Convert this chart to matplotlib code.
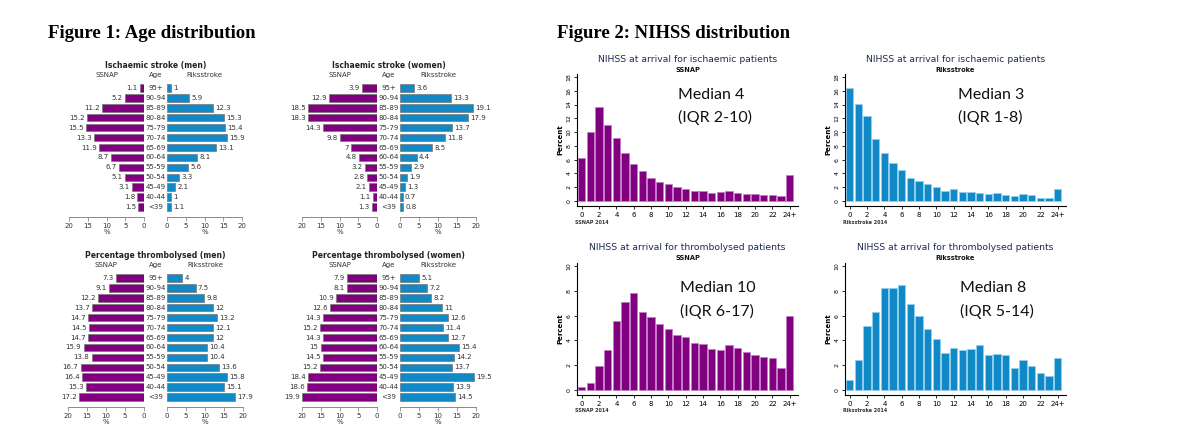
import matplotlib
matplotlib.use("Agg")
import matplotlib.pyplot as plt
import numpy as np

W, H = 1179, 437

PURPLE = '#800080'
BLUE = '#1089c6'
PURPLE_EDGE = '#c77ac7'
BLUE_EDGE = '#8fd0f0'

# --- Figure 1: age pyramids (rows listed top to bottom) ---
ages = ['95+', '90-94', '85-89', '80-84', '75-79', '70-74', '65-69',
        '60-64', '55-59', '50-54', '45-49', '40-44', '<39']

isch_men_ssnap = [1.1, 5.2, 11.2, 15.2, 15.5, 13.3, 11.9, 8.7, 6.7, 5.1, 3.1, 1.8, 1.5]
isch_men_riks = [1, 5.9, 12.3, 15.3, 15.4, 15.9, 13.1, 8.1, 5.6, 3.3, 2.1, 1, 1.1]
isch_women_ssnap = [3.9, 12.9, 18.5, 18.3, 14.3, 9.8, 7, 4.8, 3.2, 2.8, 2.1, 1.1, 1.3]
isch_women_riks = [3.6, 13.3, 19.1, 17.9, 13.7, 11.8, 8.5, 4.4, 2.9, 1.9, 1.3, 0.7, 0.8]
thromb_men_ssnap = [7.3, 9.1, 12.2, 13.7, 14.7, 14.5, 14.7, 15.9, 13.8, 16.7, 16.4, 15.3, 17.2]
thromb_men_riks = [4, 7.5, 9.8, 12, 13.2, 12.1, 12, 10.4, 10.4, 13.6, 15.8, 15.1, 17.9]
thromb_women_ssnap = [7.9, 8.1, 10.9, 12.6, 14.3, 15.2, 14.3, 15, 14.5, 15.2, 18.4, 18.6, 19.9]
thromb_women_riks = [5.1, 7.2, 8.2, 11, 12.6, 11.4, 12.7, 15.4, 14.2, 13.7, 19.5, 13.9, 14.5]

# --- Figure 2: NIHSS histograms (0..23, 24+) ---
nihss_ticklabels = [str(i) for i in range(0, 24, 2)] + ['24+']
isch_ssnap = [6.2, 10.0, 13.6, 11.1, 9.1, 7.0, 5.4, 4.3, 3.4, 2.8, 2.4, 2.0, 1.7,
              1.5, 1.5, 1.2, 1.3, 1.4, 1.2, 1.0, 1.0, 0.8, 0.9, 0.7, 3.8]
isch_riks = [16.4, 14.1, 12.4, 9.0, 6.9, 5.5, 4.5, 3.4, 2.9, 2.5, 2.1, 1.5, 1.7,
             1.3, 1.3, 1.2, 1.0, 1.2, 0.9, 0.7, 1.0, 0.8, 0.5, 0.4, 1.8]
thromb_ssnap = [0.25, 0.6, 1.9, 3.2, 5.6, 7.1, 7.8, 6.3, 5.9, 5.3, 4.9, 4.4, 4.3,
                3.8, 3.7, 3.3, 3.2, 3.6, 3.4, 3.1, 2.8, 2.7, 2.6, 1.8, 6.0]
thromb_riks = [0.8, 2.4, 5.2, 6.3, 8.2, 8.2, 8.5, 6.9, 6.0, 4.9, 4.1, 3.0, 3.4,
               3.2, 3.3, 3.6, 2.8, 2.9, 2.8, 1.8, 2.4, 1.9, 1.4, 1.1, 2.6]


def ax_px(fig, left, top, right, bottom):
    return fig.add_axes([left / W, 1 - bottom / H, (right - left) / W, (bottom - top) / H])


fig = plt.figure(figsize=(W / 100, H / 100), dpi=100)

fig.text(48 / W, 1 - 34 / H, 'Figure 1: Age distribution', family='Liberation Serif',
         weight='bold', fontsize=13.5, va='center', ha='left')
fig.text(557 / W, 1 - 34 / H, 'Figure 2: NIHSS distribution', family='Liberation Serif',
         weight='bold', fontsize=13.5, va='center', ha='left')


def pyramid(title, ssnap, riks, lx0, lx1, rx0, rx1, y_top_row, y_bottom_row, y_axis):
    n = len(ages)
    step = (y_bottom_row - y_top_row) / (n - 1)
    ypos = np.arange(n)[::-1]  # top row has highest y
    top_px = y_top_row - 0.6 * step
    ymin = -(y_axis - y_bottom_row) / step
    ymax = n - 1 + 0.6
    for side, vals, x0, x1, col in (('L', ssnap, lx0, lx1, PURPLE), ('R', riks, rx0, rx1, BLUE)):
        ax = ax_px(fig, x0, top_px, x1, y_axis)
        ax.barh(ypos, vals, height=0.74, color=col, edgecolor='#777777', linewidth=0.5)
        ax.set_xlim(0, 20)
        if side == 'L':
            ax.invert_xaxis()
        ax.set_ylim(ymin, ymax)
        for s in ('top', 'left', 'right'):
            ax.spines[s].set_visible(False)
        ax.spines['bottom'].set_color('#777777')
        ax.spines['bottom'].set_linewidth(0.6)
        ax.set_yticks([])
        ax.set_xticks([0, 5, 10, 15, 20])
        ax.tick_params(axis='x', labelsize=5, colors='#777777', labelcolor='#333333',
                       length=3, width=0.5, pad=1.5)
        ax.set_xlabel('%', fontsize=5, color='#333333', labelpad=0)
        for y, v in zip(ypos, vals):
            ax.text(v + 0.6, y, f'{v:g}', ha='right' if side == 'L' else 'left',
                    va='center', fontsize=5, color='#333333')
        ax.patch.set_alpha(0)
    xc = (lx1 + rx0) / 2
    for y, a in zip(ypos, ages):
        py = y_bottom_row - y * step
        fig.text(xc / W, 1 - py / H, a, ha='center', va='center', fontsize=5, color='#333333')
    fig.text(xc / W, 1 - (top_px - 17) / H, title, ha='center', va='center', fontsize=5.5,
             weight='bold', color='#222222')
    fig.text(xc / W, 1 - (top_px - 7) / H, 'Age', ha='center', va='center', fontsize=5, color='#333333')
    fig.text((lx0 + lx1) / 2 / W, 1 - (top_px - 7) / H, 'SSNAP', ha='center', va='center',
             fontsize=5, color='#333333')
    fig.text((rx0 + rx1) / 2 / W, 1 - (top_px - 7) / H, 'Riksstroke', ha='center', va='center',
             fontsize=5, color='#333333')


pyramid('Ischaemic stroke (men)', isch_men_ssnap, isch_men_riks, 69, 144, 167, 242, 88, 207, 217)
pyramid('Ischaemic stroke (women)', isch_women_ssnap, isch_women_riks, 302, 377, 400, 476, 88, 207, 217)
pyramid('Percentage thrombolysed (men)', thromb_men_ssnap, thromb_men_riks, 68, 144, 167, 243, 278, 397, 407)
pyramid('Percentage thrombolysed (women)', thromb_women_ssnap, thromb_women_riks, 302, 377, 400, 476, 278, 397, 407)


def hist(title, sub, vals, col, ecol, left, right, y0_px, ytop_val, px_per_unit, axis_px,
         ymax_tick, med, iqr, text_x, med_y, iqr_y, foot):
    ymin = -(axis_px - y0_px) / px_per_unit
    ymax = ytop_val
    top = y0_px - ymax * px_per_unit
    ax = ax_px(fig, left, top, right, axis_px)
    x = np.arange(len(vals))
    ax.bar(x, vals, width=0.86, color=col, edgecolor=ecol, linewidth=0.6)
    ax.set_xlim(-0.55, 24.95)
    ax.set_ylim(ymin, ymax)
    for s in ('top', 'right'):
        ax.spines[s].set_visible(False)
    for s in ('left', 'bottom'):
        ax.spines[s].set_linewidth(0.8)
    ax.set_yticks(np.arange(0, ymax_tick + 1, 2))
    ax.set_yticklabels([str(v) for v in range(0, ymax_tick + 1, 2)], rotation=90,
                       va='center', fontsize=4.5)
    ax.set_xticks(list(range(0, 24, 2)) + [24])
    ax.set_xticklabels(nihss_ticklabels, fontsize=5)
    ax.tick_params(length=2.5, width=0.6, pad=1.5)
    ax.set_ylabel('Percent', fontsize=5, weight='bold', labelpad=2)
    xc = (left + right) / 2
    fig.text(xc / W, 1 - (top - 15) / H, title, ha='center', va='center', fontsize=6.7,
             color='#1f2a55')
    fig.text(xc / W, 1 - (top - 4.5) / H, sub, ha='center', va='center', fontsize=4.8,
             weight='bold', color='#111111')
    fig.text(text_x / W, 1 - med_y / H, med, ha='left', va='center', fontsize=11.5,
             family='Lato', color='#111111')
    fig.text(text_x / W, 1 - iqr_y / H, iqr, ha='left', va='center', fontsize=11.5,
             family='Lato', color='#111111')
    fig.text((left - 2) / W, 1 - (axis_px + 16) / H, foot, ha='left', va='center', fontsize=3.5,
             weight='bold', color='#333333')


hist('NIHSS at arrival for ischaemic patients', 'SSNAP', isch_ssnap, PURPLE, PURPLE_EDGE,
     577, 798, 201, 18.4, 124 / 18, 206, 18, 'Median 4', '(IQR 2-10)', 678, 95, 117, 'SSNAP 2014')
hist('NIHSS at arrival for ischaemic patients', 'Riksstroke', isch_riks, BLUE, BLUE_EDGE,
     845, 1066, 201, 18.4, 124 / 18, 206, 18, 'Median 3', '(IQR 1-8)', 958, 95, 117, 'Riksstroke 2014')
hist('NIHSS at arrival for thrombolysed patients', 'SSNAP', thromb_ssnap, PURPLE, PURPLE_EDGE,
     577, 798, 390, 10.25, 12.4, 395, 10, 'Median 10', '(IQR 6-17)', 680, 288, 311, 'SSNAP 2014')
hist('NIHSS at arrival for thrombolysed patients', 'Riksstroke', thromb_riks, BLUE, BLUE_EDGE,
     845, 1066, 390, 10.25, 12.4, 395, 10, 'Median 8', '(IQR 5-14)', 960, 288, 311, 'Riksstroke 2014')

fig.savefig('out.png', dpi=100)
